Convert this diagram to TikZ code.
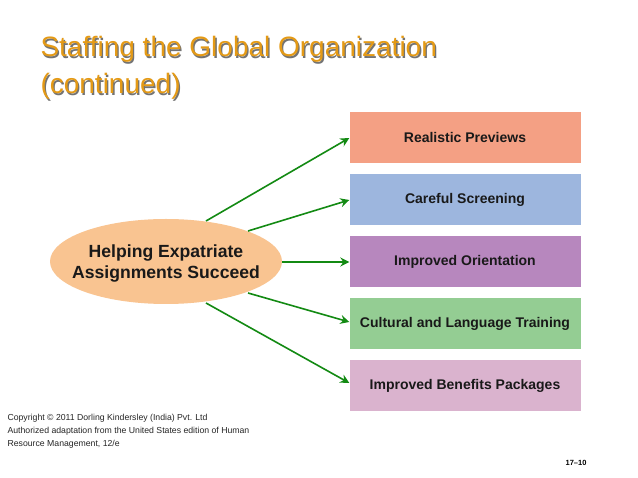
\documentclass[tikz,border=0pt]{standalone}
\usepackage{fontspec}
\setmainfont{Liberation Sans}
\usetikzlibrary{arrows.meta,shapes.geometric}
\definecolor{titleor}{HTML}{E49A16}
\definecolor{arrgreen}{HTML}{138A13}
\definecolor{cA}{HTML}{F4A084}
\definecolor{cB}{HTML}{9DB6DE}
\definecolor{cC}{HTML}{B787BE}
\definecolor{cD}{HTML}{94CD93}
\definecolor{cE}{HTML}{DAB3CE}
\definecolor{cEll}{HTML}{F9C491}
\tikzset{
  optbox/.style={rectangle,fill=#1,minimum width=231pt,minimum height=51pt,inner sep=0pt,
    font=\fontsize{14}{16}\selectfont\bfseries,text=black!90},
  conn/.style={draw=arrgreen,line width=1.6pt,-{Stealth[length=9pt,width=9pt,inset=3pt]}},
  titletext/.style={anchor=base west,font=\fontsize{28}{32}\selectfont},
  foot/.style={anchor=base west,font=\fontsize{8.7}{10}\selectfont,text=black!85}
}
\begin{document}
\begin{tikzpicture}[x=1pt,y=-1pt]
\useasboundingbox (0,0) rectangle (638,478);
\fill[white] (0,0) rectangle (638,478);
% title
\node[titletext,text=black!55] (tsh1) at (38.3,58.3) {Staffing the Global Organization};
\node[titletext,text=titleor] (t1) at (37,57) {Staffing the Global Organization};
\node[titletext,text=black!55] (tsh2) at (38.3,95.3) {(continued)};
\node[titletext,text=titleor] (t2) at (37,94) {(continued)};
% boxes
\node[optbox=cA] (b1) at (465,137.5) {Realistic Previews};
\node[optbox=cB] (b2) at (465,199.5) {Careful Screening};
\node[optbox=cC] (b3) at (465,261.5) {Improved Orientation};
\node[optbox=cD] (b4) at (465,323.5) {Cultural and Language Training};
\node[optbox=cE] (b5) at (465,385.5) {Improved Benefits Packages};
% ellipse
\node[ellipse,fill=cEll,minimum width=232pt,minimum height=85pt,inner sep=0pt] (e) at (166,261.5) {};
\node[font=\fontsize{17.6}{21}\selectfont\bfseries,align=center,text=black!90,yshift=-2pt] (et) at (e.center)
  {Helping Expatriate\\Assignments Succeed};
% arrows
\coordinate (s1) at (206,221); \coordinate (s2) at (248,231);
\coordinate (s3) at (282,262); \coordinate (s4) at (248,293);
\coordinate (s5) at (206,303);
\draw[conn] (s1) -- (b1.west|-0,138);
\draw[conn] (s2) -- (b2.west|-0,200);
\draw[conn] (s3) -- (b3.west|-0,262);
\draw[conn] (s4) -- (b4.west|-0,322);
\draw[conn] (s5) -- (b5.west|-0,383);
% footer
\node[foot] (f1) at (4,421) {Copyright \textcopyright{} 2011 Dorling Kindersley (India) Pvt. Ltd};
\node[foot] (f2) at (4,434) {Authorized adaptation from the United States edition of Human};
\node[foot] (f3) at (4,447) {Resource Management, 12/e};
\node[anchor=base east,font=\fontsize{7.5}{9}\selectfont\bfseries] (pg) at (590,466) {17--10};
\end{tikzpicture}
\end{document}
